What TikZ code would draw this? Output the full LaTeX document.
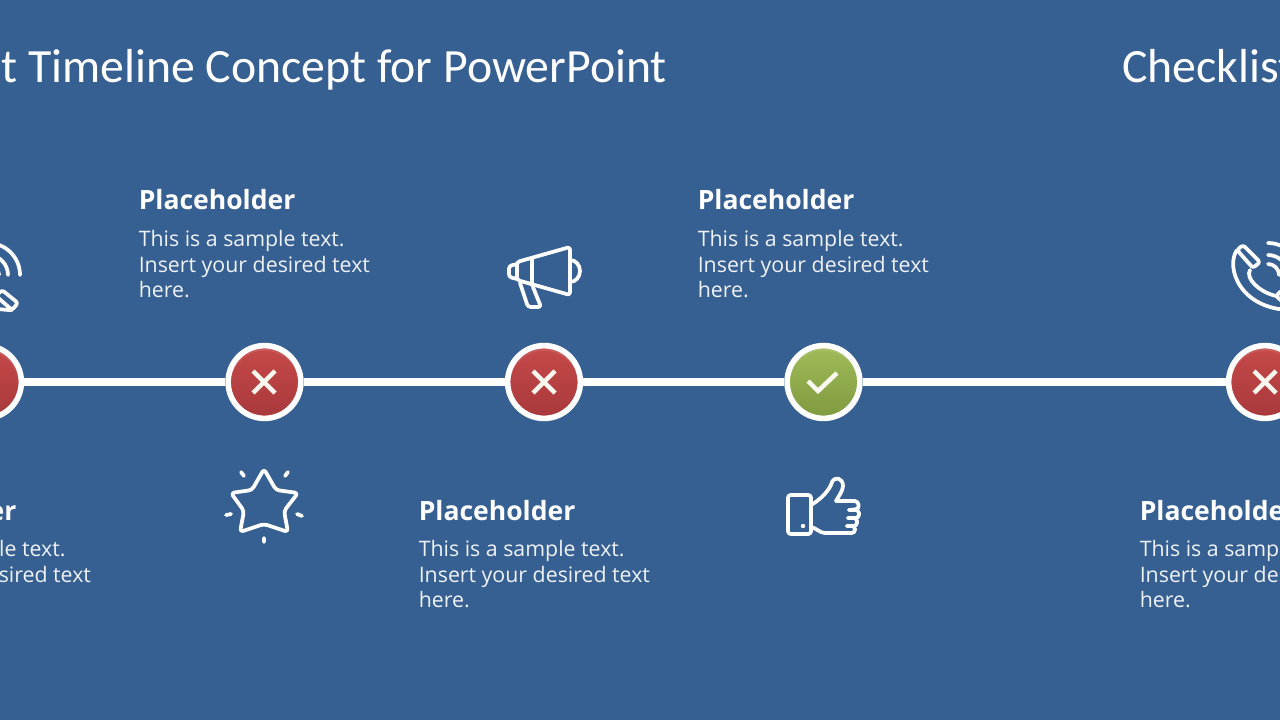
\documentclass[tikz,border=0pt]{standalone}
\usepackage{xcolor}
\usepackage{fontspec}
\setmainfont{Open Sans}
\newfontfamily\titlefont{Carlito}
\definecolor{slate}{HTML}{365F92}
\definecolor{cream}{HTML}{FBF8F0}
\definecolor{red1}{HTML}{C64A4A}
\definecolor{red2}{HTML}{A8383B}
\definecolor{green1}{HTML}{A0BB58}
\definecolor{green2}{HTML}{7F9A40}

\begin{document}
\begin{tikzpicture}[
  x=0.75pt, y=-0.75pt,
  title/.style={text=white, inner sep=0pt, font=\titlefont\fontsize{35.8}{42}\selectfont},
  head/.style={text=white, inner sep=0pt, anchor=base west, font=\bfseries\fontsize{19.9}{24}\selectfont},
  copy/.style={text=white!92!slate, inner sep=0pt, anchor=north west, align=left, font=\fontsize{16}{19.3}\selectfont},
  ball/.style={circle, draw=white, line width=4.2pt, inner sep=0pt, minimum size=54.6pt,
    path picture={\fill[white, opacity=0.1, even odd rule]
      ([shift={(-50,-50)}]path picture bounding box.center) rectangle ([shift={(50,50)}]path picture bounding box.center)
      ([yshift=-2pt]path picture bounding box.center) circle (25.5pt);}},
  bad/.style={ball, top color=red1, bottom color=red2},
  good/.style={ball, top color=green1, bottom color=green2},
  rail/.style={draw=white, line width=6pt},
  glyph/.style={draw=cream, line width=3.4pt},
  icon/.style={draw=white, line width=2.8pt, line join=round, line cap=round},
  phone/.pic={
    \draw[icon, rounded corners=2pt] (-28,-132) -- (-22,-137) -- (-5,-120) -- (-12,-114) -- cycle;
    \draw[icon] (-15,-112) .. controls (-20,-104) and (-6,-90) .. (11,-86);
    \draw[icon, rounded corners=2pt] (11,-86) -- (17,-92) -- (33,-79) -- (27,-72) -- cycle;
    \draw[icon] (-28,-132) .. controls (-40,-115) and (-25,-72) .. (27,-72);
    \draw[icon] (3,-139) arc (-90:0:32);
    \draw[icon] (3,-127) arc (-90:0:20);
    \draw[icon] (3,-118) arc (-90:0:11);
  }
]
\useasboundingbox (0,0) rectangle (1280,720);
\clip (0,0) rectangle (1280,720);
\fill[slate] (0,0) rectangle (1280,720);

% titles
\node[title, anchor=base east] (titlea) at (667,83) {t Timeline Concept for PowerPoint};
\node[title, anchor=base west] (titleb) at (1122,83) {Checklist};

% timeline
\node[bad] (marka) at (-15,382) {};
\node[bad] (markb) at (264.5,382) {};
\node[bad] (markc) at (544,382) {};
\node[good] (markd) at (823.5,382) {};
\node[bad] (marke) at (1265,382) {};
\draw[rail] (marka) -- (markb);
\draw[rail] (markb) -- (markc);
\draw[rail] (markc) -- (markd);
\draw[rail] (markd) -- (marke);

% crosses and tick
\draw[glyph] (253,371) -- (275,393) (275,371) -- (253,393);
\draw[glyph] (533,371) -- (555,393) (555,371) -- (533,393);
\draw[glyph] (1254,371) -- (1276,393) (1276,371) -- (1254,393);
\draw[glyph] (808,381) -- (818,391) -- (837,373);

% text blocks
\node[head] (heada) at (-140.5,520) {Placeholder};
\node[copy] (copya) at (-140.5,540) {This is a sample text.\\Insert your desired text\\here.};
\node[head] (headb) at (138.5,210) {Placeholder};
\node[copy] (copyb) at (138.5,230) {This is a sample text.\\Insert your desired text\\here.};
\node[head] (headc) at (418.5,520) {Placeholder};
\node[copy] (copyc) at (418.5,540) {This is a sample text.\\Insert your desired text\\here.};
\node[head] (headd) at (697.5,210) {Placeholder};
\node[copy] (copyd) at (697.5,230) {This is a sample text.\\Insert your desired text\\here.};
\node[head] (heade) at (1139.5,520) {Placeholder};
\node[copy] (copye) at (1139.5,540) {This is a sample text.\\Insert your desired text\\here.};

% phones
\pic at (-15,382) {phone};
\pic at (1265,382) {phone};

% star
\draw[icon, rounded corners=2.5pt] (264,469) -- (276,490) -- (298,493) -- (284,511) -- (288,532) -- (264,524) -- (240,532) -- (244,511) -- (231,493) -- (252,490) -- cycle;
\draw[icon] (241,472) -- (244,476) (288,472) -- (285,476) (226,515) -- (231,514) (297,514) -- (302,516) (264,538) -- (264,542);

% megaphone
\draw[icon, rounded corners=2pt] (517,262) -- (570,247) -- (570,295) -- (517,280) -- cycle;
\draw[icon] (532,259) -- (532,285);
\draw[icon, rounded corners=2pt] (517,264) -- (509,266) -- (509,277) -- (517,279);
\draw[icon] (570,260) arc (-90:90:10 and 11);
\draw[icon, rounded corners=2pt] (520,283) -- (528,307) -- (541,307) -- (533,287);

% thumb
\draw[icon, rounded corners=2pt] (788,495) rectangle (811,534);
\fill[white] (803,526) circle (2.2);
\draw[icon] (811,505) .. controls (820,500) and (830,490) .. (832,482) .. controls (835,476) and (843,478) .. (843,486) .. controls (843,491) and (838,497) .. (836,501);
\draw[icon, rounded corners=2.5pt] (836,501) -- (858,501) -- (859,509) -- (849,510);
\draw[icon, rounded corners=2.5pt] (849,510) -- (859,510) -- (859,518) -- (848,518);
\draw[icon, rounded corners=2.5pt] (848,518) -- (857,518) -- (857,526) -- (847,526);
\draw[icon, rounded corners=2.5pt] (847,526) -- (855,526) -- (855,533) -- (825,533);
\draw[icon] (825,533) .. controls (820,533) and (816,528) .. (811,527);
\end{tikzpicture}
\end{document}
